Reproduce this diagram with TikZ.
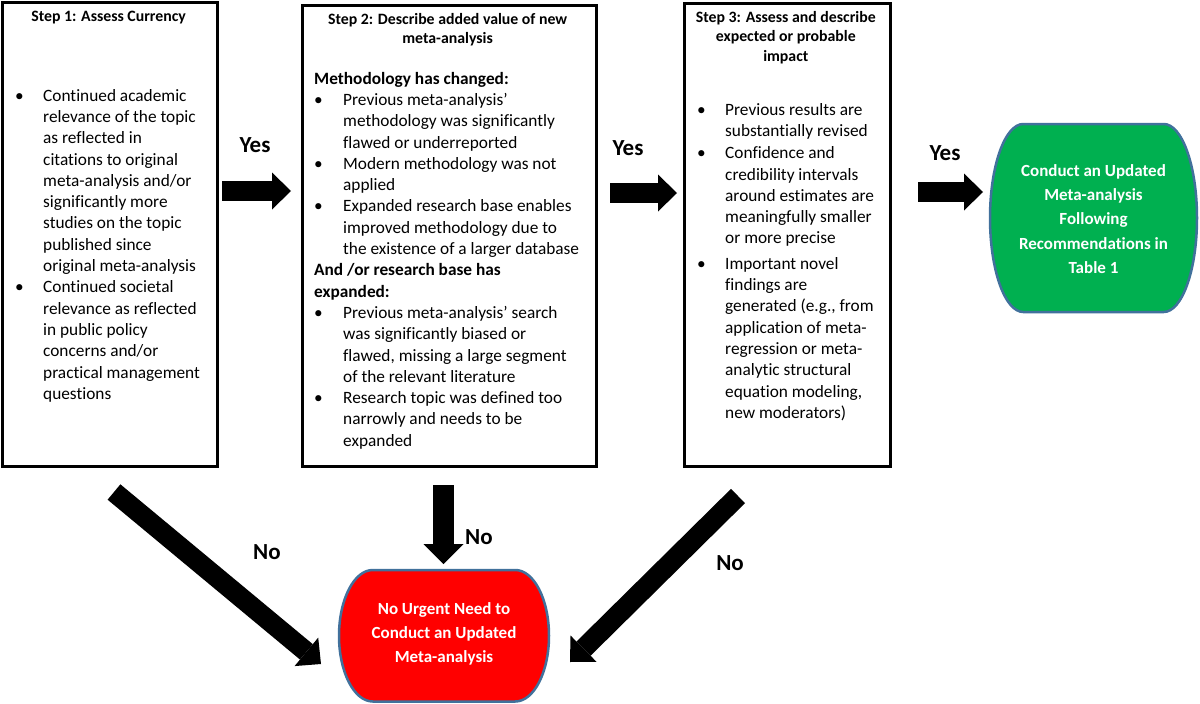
\documentclass[tikz,border=0pt]{standalone}
\usepackage{fontspec}
\setmainfont{Carlito}[Ligatures=NoCommon]
\usetikzlibrary{arrows.meta}

\definecolor{outlineblue}{RGB}{65,113,156}
\definecolor{updgreen}{RGB}{0,176,80}
\definecolor{noneedred}{RGB}{255,0,0}

\tikzset{
  stepbox/.style={draw, line width=3pt, anchor=north west, inner sep=0pt},
  steptitle/.style={font=\fontsize{15.8}{19.5}\selectfont\bfseries, align=center, anchor=north, inner sep=0pt},
  steptext/.style={font=\fontsize{17.3}{21.3}\selectfont, anchor=north west, inner sep=0pt},
  outcomeline/.style={draw=outlineblue, line width=2.5pt},
  outcome/.style={font=\fontsize{17}{24.3}\selectfont\bfseries, text=white, align=center, inner sep=0pt},
  blockarrow/.style={line width=20pt, -{Triangle[length=19pt, width=37pt, line width=0pt]}},
  answer/.style={font=\fontsize{23}{27}\selectfont\bfseries, inner sep=0pt},
}

\begin{document}
\begin{tikzpicture}[x=1pt, y=-1pt]
    \useasboundingbox (0,0) rectangle (1200,704);

    % the three steps
    \node[stepbox, minimum width=214.7pt, minimum height=463.2pt] at (1.3,1.3)   (s1) {};
    \node[stepbox, minimum width=294.2pt, minimum height=460.7pt] at (300.5,4)   (s2) {};
    \node[stepbox, minimum width=205.7pt, minimum height=462.7pt] at (683,2)     (s3) {};

    \node[steptitle] at (108.6,11) (t1) {Step 1: Assess Currency};
    \node[steptitle] at (447.6,13) (t2) {Step 2: Describe added value of new\\meta-analysis};
    \node[steptitle] at (785.8,11) (t3) {Step 3: Assess and describe\\expected or probable\\impact};

    \node[steptext] at (15,86) (b1) {\begin{tabular}{@{}p{28pt}@{}l@{}}
        \textbullet & Continued academic\\
        & relevance of the topic\\
        & as reflected in\\
        & citations to original\\
        & meta-analysis and/or\\
        & significantly more\\
        & studies on the topic\\
        & published since\\
        & original meta-analysis\\
        \textbullet & Continued societal\\
        & relevance as reflected\\
        & in public policy\\
        & concerns and/or\\
        & practical management\\
        & questions
    \end{tabular}};

    \node[steptext] at (314,69) (b2) {\begin{tabular}{@{}p{29pt}@{}l@{}}
        \multicolumn{2}{@{}l@{}}{\bfseries Methodology has changed:}\\
        \textbullet & Previous meta-analysis’\\
        & methodology was significantly\\
        & flawed or underreported\\
        \textbullet & Modern methodology was not\\
        & applied\\
        \textbullet & Expanded research base enables\\
        & improved methodology due to\\
        & the existence of a larger database\\
        \multicolumn{2}{@{}l@{}}{\bfseries And /or research base has}\\
        \multicolumn{2}{@{}l@{}}{\bfseries expanded:}\\
        \textbullet & Previous meta-analysis’ search\\
        & was significantly biased or\\
        & flawed, missing a large segment\\
        & of the relevant literature\\
        \textbullet & Research topic was defined too\\
        & narrowly and needs to be\\
        & expanded
    \end{tabular}};

    \node[steptext] at (697,100) (b3) {\begin{tabular}{@{}p{28pt}@{}l@{}}
        \textbullet & Previous results are\\
        & substantially revised\\[1pt]
        \textbullet & Confidence and\\
        & credibility intervals\\
        & around estimates are\\
        & meaningfully smaller\\
        & or more precise\\[4pt]
        \textbullet & Important novel\\
        & findings are\\
        & generated (e.g., from\\
        & application of meta-\\
        & regression or meta-\\
        & analytic structural\\
        & equation modeling,\\
        & new moderators)
    \end{tabular}};

    % outcomes
    \draw[outcomeline, fill=updgreen] (1023.3,124) -- (1163.7,124)
        .. controls (1182.1,124) and (1197,166.1) .. (1197,218)
        .. controls (1197,269.9) and (1182.1,312) .. (1163.7,312)
        -- (1023.3,312)
        .. controls (1004.9,312) and (990,269.9) .. (990,218)
        .. controls (990,166.1) and (1004.9,124) .. (1023.3,124) -- cycle;
    \draw[outcomeline, fill=noneedred] (372.8,570) -- (515.2,570)
        .. controls (533.9,570) and (549,599.45) .. (549,635.75)
        .. controls (549,672.05) and (533.9,701.5) .. (515.2,701.5)
        -- (372.8,701.5)
        .. controls (354.1,701.5) and (339,672.05) .. (339,635.75)
        .. controls (339,599.45) and (354.1,570) .. (372.8,570) -- cycle;

    \node[outcome] at (1093.5,219) (upd) {Conduct an Updated\\Meta-analysis\\Following\\Recommendations in\\Table 1};
    \node[outcome] at (444,634) (noneed) {No Urgent Need to\\Conduct an Updated\\Meta-analysis};

    % arrow ends
    \coordinate (s1yes) at (222,191);   \coordinate (s2in) at (291,191);
    \coordinate (s2yes) at (610,193);   \coordinate (s3in) at (677,193);
    \coordinate (s3yes) at (918,192);   \coordinate (updin) at (983,192);
    \coordinate (s1no) at (114,492);    \coordinate (noin1) at (321,664);
    \coordinate (s2no) at (443.5,485);  \coordinate (noin2) at (443.5,564);
    \coordinate (s3no) at (738,496);    \coordinate (noin3) at (570,662);

    \draw[blockarrow] (s1yes) -- (s2in);
    \draw[blockarrow] (s2yes) -- (s3in);
    \draw[blockarrow] (s3yes) -- (updin);
    \draw[blockarrow] (s1no) -- (noin1);
    \draw[blockarrow, line width=21pt, -{Triangle[length=20pt, width=40pt, line width=0pt]}] (s2no) -- (noin2);
    \draw[blockarrow] (s3no) -- (noin3);

    \node[answer] at (255,145) (yes1) {Yes};
    \node[answer] at (628,148) (yes2) {Yes};
    \node[answer] at (945,153) (yes3) {Yes};
    \node[answer] at (267,552) (no1) {No};
    \node[answer] at (479,537) (no2) {No};
    \node[answer] at (730,563) (no3) {No};
\end{tikzpicture}
\end{document}
